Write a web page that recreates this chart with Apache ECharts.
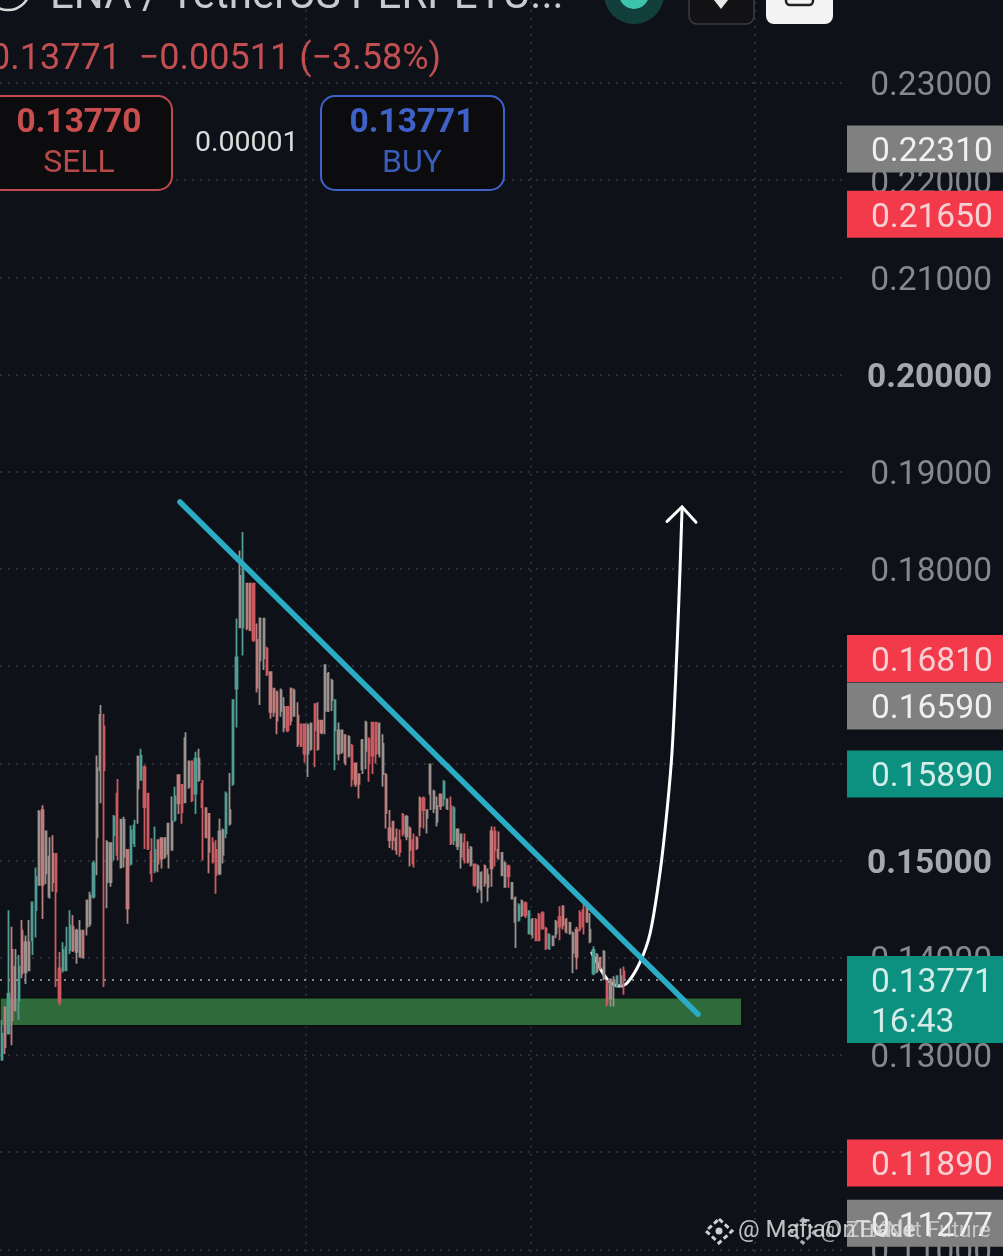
<!DOCTYPE html>
<html>
<head>
<meta charset="utf-8">
<style>html,body{margin:0;padding:0;background:#0e1118}#c{width:1003px;height:1256px;filter:blur(0.4px)}</style>
<script src="https://cdn.jsdelivr.net/npm/echarts@6/dist/echarts.min.js"></script>
</head>
<body>
<div id="c"></div>
<script>
// Candle values in units of 0.0001 USDT
const opens = [1295,1349,1322,1408,1391,1356,1428,1416,1416,1418,1449,1550,1552,1530,1504,1507,1507,1389,1387,1387,1408,1432,1428,1428,1428,1459,1464,1463,1595,1650,1638,1519,1518,1526,1569,1542,1542,1511,1497,1518,1607,1583,1596,1569,1509,1490,1521,1523,1523,1538,1540,1542,1588,1578,1626,1602,1602,1569,1605,1579,1554,1548,1518,1511,1530,1531,1528,1552,1579,1677,1793,1740,1785,1785,1785,1727,1749,1749,1718,1694,1677,1673,1675,1658,1658,1677,1675,1649,1640,1640,1639,1641,1634,1644,1632,1701,1692,1685,1665,1634,1634,1629,1627,1618,1600,1589,1624,1642,1625,1642,1642,1641,1620,1588,1533,1540,1523,1521,1547,1545,1533,1521,1523,1564,1564,1544,1599,1571,1540,1568,1581,1563,1556,1554,1532,1527,1518,1511,1513,1496,1494,1470,1494,1485,1492,1530,1511,1508,1497,1494,1477,1437,1454,1458,1456,1448,1439,1439,1444,1446,1430,1424,1422,1437,1432,1453,1439,1436,1425,1429,1446,1432,1451,1429,1408,1403,1400,1406,1376,1377,1377,1370,1372,1386];
const closes = [1322,1308,1363,1336,1346,1391,1384,1385,1387,1457,1483,1475,1475,1487,1463,1478,1468,1355,1408,1411,1433,1408,1406,1401,1401,1432,1435,1497,1524,1593,1593,1478,1478,1545,1506,1493,1504,1451,1531,1536,1574,1608,1555,1512,1487,1511,1497,1502,1504,1507,1511,1566,1559,1550,1560,1576,1562,1605,1583,1555,1524,1509,1499,1485,1487,1506,1569,1538,1665,1709,1740,1805,1739,1737,1727,1678,1706,1708,1692,1653,1653,1644,1654,1637,1634,1644,1649,1620,1618,1610,1610,1615,1661,1615,1644,1654,1654,1665,1634,1610,1612,1601,1608,1584,1579,1579,1594,1613,1600,1608,1610,1610,1589,1549,1521,1521,1511,1509,1528,1525,1511,1497,1513,1535,1552,1552,1569,1554,1556,1556,1564,1554,1518,1521,1515,1504,1501,1499,1496,1475,1472,1487,1477,1473,1530,1511,1503,1485,1473,1484,1461,1461,1439,1444,1444,1425,1424,1418,1418,1430,1410,1410,1413,1425,1442,1434,1427,1425,1405,1401,1430,1449,1437,1417,1384,1386,1389,1379,1353,1358,1372,1381,1381,1377];
const lows = [1295,1301,1322,1310,1346,1336,1379,1373,1387,1403,1421,1475,1440,1476,1461,1468,1370,1351,1385,1387,1404,1406,1394,1401,1399,1423,1432,1461,1485,1559,1370,1451,1473,1500,1500,1492,1493,1435,1495,1514,1538,1583,1512,1511,1478,1487,1488,1492,1502,1492,1511,1540,1548,1538,1559,1574,1560,1548,1581,1500,1523,1487,1497,1466,1485,1497,1523,1536,1577,1637,1740,1711,1737,1737,1725,1673,1660,1696,1690,1646,1648,1630,1648,1632,1632,1639,1648,1617,1617,1601,1586,1613,1596,1613,1630,1630,1653,1654,1593,1603,1610,1598,1606,1576,1576,1564,1589,1594,1581,1589,1600,1606,1576,1533,1513,1511,1506,1504,1525,1521,1494,1493,1511,1525,1533,1528,1552,1549,1535,1552,1556,1552,1516,1516,1511,1492,1497,1497,1494,1473,1467,1456,1473,1458,1473,1494,1501,1484,1472,1472,1460,1410,1437,1442,1441,1424,1420,1417,1417,1429,1408,1408,1412,1420,1418,1429,1425,1424,1384,1388,1427,1424,1436,1415,1382,1384,1388,1377,1350,1350,1350,1370,1370,1362];
const highs = [1336,1349,1449,1432,1409,1403,1439,1423,1439,1457,1493,1552,1557,1530,1524,1526,1507,1406,1416,1432,1449,1444,1430,1439,1428,1459,1468,1500,1608,1660,1651,1521,1519,1547,1584,1543,1545,1511,1536,1542,1608,1615,1598,1569,1523,1535,1521,1524,1523,1538,1566,1576,1588,1578,1632,1602,1602,1612,1615,1583,1554,1548,1524,1521,1543,1533,1571,1590,1666,1749,1819,1838,1785,1785,1785,1744,1750,1749,1720,1694,1677,1675,1677,1668,1658,1678,1677,1663,1641,1641,1641,1642,1661,1663,1644,1701,1694,1687,1665,1642,1634,1630,1629,1620,1600,1589,1625,1644,1627,1642,1642,1642,1630,1590,1552,1540,1533,1532,1549,1547,1535,1528,1525,1566,1566,1552,1600,1573,1566,1569,1583,1563,1566,1556,1533,1528,1528,1520,1515,1496,1496,1489,1496,1492,1535,1535,1530,1508,1499,1496,1478,1463,1456,1460,1458,1449,1441,1441,1446,1448,1432,1425,1422,1439,1453,1454,1441,1437,1427,1432,1449,1458,1453,1446,1412,1405,1401,1408,1377,1379,1381,1382,1389,1391];
const toneList = "t p t p g t p g g t t g p g g p r r t t t p g g p g g t g g r g g t r g g p t t g t r r r t p p g g g t p r g g r t g r p p r r g g t g t t g t p p r p g g r p p p g g r p g p r r g g r p p g g g t g g p g r p p g g r r r g g p p p p r r g p r p p r g g g g p t g r t g g r p g r g g p g p r p g g r g g t g r t g r r r r t g g r p p g g p r r p g t g p g r g g t g r r p r r g g g t t r".split(' ');
const currentPrice = 0.13771;

// Drawn annotations (x in candle slots, y in price)
const trendX = [52.9, 205.2];
const trendY = [0.1869, 0.1342];
const curveX = [174.0,177.3,179.3,182.3,184.6,188.1,191.1,194.0,196.1,197.6,199.0,199.9,200.5];
const curveY = [0.1405,0.1384,0.1375,0.1371,0.1375,0.1395,0.1425,0.1487,0.1552,0.1614,0.1717,0.1799,0.1861];
const arrowX = [196.1,200.5,204.6];
const arrowY = [0.1849,0.1864,0.1848];
const zoneX = [0, 218.1];
const zoneY = [0.1359, 0.1330];

// Price tags on the right-hand scale
const tagLabels = ['0.22310','0.21650','0.16810','0.16590','0.15890','0.13771\n16:43','0.11890','0.11277'];
const tagAnchors = [0.2232,0.2165,0.1708,0.1659,0.1589,0.1357,0.1189,0.1127];
const tagTones = ['g','r','r','g','t','t','r','g'];
const boldTicks = ['0.20000','0.15000'];
const slotCount = 249;
const gridEvery = 66, gridFirst = 24;

const palette = {t:'#4f9d93', r:'#cc5a60', p:'#bf7c7b', g:'#9a918d'};
const tagFill = {g:'#808080', r:'#f23a4b', t:'#0c9080'};
const categories = Array.from({length:slotCount},(_, i)=>'c'+i);

const candleData = opens.map((o,i)=>{
  const c = palette[toneList[i]] || palette.g;
  return {value:[o/10000, closes[i]/10000, lows[i]/10000, highs[i]/10000],
    itemStyle:{color:c,color0:c,borderColor:c,borderColor0:c,borderWidth:1.8}};
});
const pair=(xs,ys)=>xs.map((x,i)=>[x,ys[i]]);
const font = 'Roboto, "Liberation Sans", sans-serif';

const chart = echarts.init(document.getElementById('c'), null, {renderer:'canvas'});
chart.setOption({
  animation:false,
  backgroundColor:'#0e1118',
  grid:{left:0, width:847, top:-14.2, height:1360.8, containLabel:false, outerBoundsMode:'none'},
  xAxis:[
    {type:'category', data:categories, boundaryGap:true, axisLine:{show:false}, axisTick:{show:false}, axisLabel:{show:false},
     splitLine:{show:true, showMinLine:false, showMaxLine:false, interval:(i)=>i>=gridFirst && (i-gridFirst)%gridEvery===0, lineStyle:{color:'#2c2f36', type:[2,6], width:2}}},
    {type:'value', min:0, max:slotCount, show:false, splitLine:{show:false}}
  ],
  yAxis:{type:'value', position:'right', min:0.10, max:0.24, interval:0.01,
    axisLine:{show:false}, axisTick:{show:false},
    splitLine:{show:true, showMaxLine:false, lineStyle:{color:'#2c2f36', type:[2,6], width:2}},
    axisLabel:{show:true, inside:false, margin:145, align:'right', padding:[8,0,0,0], fontFamily:font, fontSize:33.5, color:'#85888d',
      formatter:(v)=>{
        if (v<0.105||v>0.235) return '';
        const s=v.toFixed(5);
        return boldTicks.includes(s)?'{b|'+s+'}':s;
      },
      rich:{b:{fontFamily:font,fontSize:33.5,fontWeight:'bold',color:'#a6a8ab'}}
    }},
  series:[
    {type:'line', name:'zone', xAxisIndex:1, data:[], z:1, silent:true,
     markArea:{silent:true, itemStyle:{color:'#2f6a3a', borderColor:'#07100a', borderWidth:1.5},
       data:[[{xAxis:zoneX[0],yAxis:zoneY[0]},{xAxis:zoneX[1],yAxis:zoneY[1]}]]},
     markLine:{silent:true, symbol:'none', precision:5, label:{show:false},
       lineStyle:{color:'#85888d', type:[2,6], width:2}, data:[{yAxis:currentPrice}]}},
    {type:'line', name:'curve', xAxisIndex:1, data:pair(curveX,curveY), symbol:'none', smooth:0.3, z:2,
     lineStyle:{color:'#ffffff', width:3, cap:'round'}, silent:true},
    {type:'candlestick', name:'ENA', xAxisIndex:0, barWidth:1.7, data:candleData, z:3, silent:true},
    {type:'line', name:'trend', xAxisIndex:1, data:pair(trendX,trendY), symbol:'none', z:5,
     lineStyle:{color:'#2aacc4', width:5.5, cap:'round'}, silent:true},
    {type:'line', name:'arrow', xAxisIndex:1, data:pair(arrowX,arrowY), symbol:'none', z:6,
     lineStyle:{color:'#ffffff', width:3, cap:'round', join:'miter'}, silent:true},
    {type:'custom', name:'tags', xAxisIndex:1, z:10, silent:true,
     data:tagAnchors.map((a,i)=>[0,a,i]),
     renderItem:(params,api)=>{
       const i=api.value(2), yc=api.coord([0,api.value(1)])[1];
       const label=tagLabels[i], h=label.includes('\n')?87:47;
       const left=params.coordSys.x+params.coordSys.width;
       return {type:'group', children:[
         {type:'rect', shape:{x:left,y:yc-h/2,width:156,height:h}, style:{fill:tagFill[tagTones[i]]}},
         {type:'text', style:{x:871,y:yc+4,text:label,align:'left',verticalAlign:'middle',
           font:'33.5px '+font, lineHeight:40, fill:tagTones[i]==='r'?'#f6cfd3':(tagTones[i]==='t'?'#d3ece8':'#f0f0f0')}}
       ]};
     }}
  ],
  graphic:{elements:[
    {type:'circle', z:20, shape:{cx:8,cy:-12,r:22}, style:{fill:'none',stroke:'#d8d8d8',lineWidth:2.5}},
    {type:'text', z:20, style:{x:50,y:18,text:'ENA / TetherUS PERPETU...',font:'42px '+font,fill:'#c9cacd',verticalAlign:'bottom'}},
    {type:'circle', z:20, shape:{cx:634,cy:-6,r:30}, style:{fill:'#123f3c'}},
    {type:'circle', z:20, shape:{cx:634,cy:-6,r:15}, style:{fill:'#3fc4ac'}},
    {type:'rect', z:20, shape:{x:689,y:-20,width:65,height:44,r:8}, style:{fill:'#121214',stroke:'#3c3d40',lineWidth:1.5}},
    {type:'polygon', z:21, shape:{points:[[714,0],[728,0],[721,9]]}, style:{fill:'#e8e8e8'}},
    {type:'rect', z:20, shape:{x:766,y:-20,width:67,height:44,r:8}, style:{fill:'#f4f4f4'}},
    {type:'rect', z:21, shape:{x:786,y:-14,width:27,height:19,r:4}, style:{fill:'none',stroke:'#222',lineWidth:2.5}},
    {type:'text', z:20, style:{x:-10,y:60,text:'0.13771  \u22120.00511 (\u22123.58%)',font:'36px '+font,fill:'#c24f51',verticalAlign:'middle'}},
    {type:'rect', z:20, shape:{x:-12,y:96,width:184,height:94,r:14}, style:{fill:'#0c0c0e',stroke:'#c04a4e',lineWidth:2}},
    {type:'text', z:21, style:{x:79,y:124,text:'0.13770',font:'bold 33.5px '+font,fill:'#c84e50',align:'center',verticalAlign:'middle'}},
    {type:'text', z:21, style:{x:79,y:164,text:'SELL',font:'32px '+font,fill:'#b84a4a',align:'center',verticalAlign:'middle'}},
    {type:'text', z:20, style:{x:195,y:144,text:'0.00001',font:'28.5px '+font,fill:'#dcdcdc',verticalAlign:'middle'}},
    {type:'rect', z:20, shape:{x:321,y:96,width:183,height:94,r:14}, style:{fill:'#0c0c0e',stroke:'#3f62c8',lineWidth:2}},
    {type:'text', z:21, style:{x:412,y:124,text:'0.13771',font:'bold 33.5px '+font,fill:'#3f62c8',align:'center',verticalAlign:'middle'}},
    {type:'text', z:21, style:{x:412,y:164,text:'BUY',font:'32px '+font,fill:'#3a5bb8',align:'center',verticalAlign:'middle'}},
    {type:'polygon', z:30, shape:{points:[[719,1219],[732,1231],[719,1243],[706,1231]]}, style:{fill:'none',stroke:'#cfcfcf',lineWidth:3,lineDash:[5,3]}},
    {type:'circle', z:30, shape:{cx:719,cy:1231,r:3.5}, style:{fill:'#cfcfcf'}},
    {type:'text', z:30, style:{x:738,y:1231,text:'@ MafiaOnTrade',font:'24px '+font,fill:'rgba(225,225,225,0.85)',verticalAlign:'middle'}},
    {type:'polygon', z:30, shape:{points:[[803,1219],[815,1231],[803,1243],[791,1231]]}, style:{fill:'none',stroke:'rgba(207,207,207,0.8)',lineWidth:3,lineDash:[5,3]}},
    {type:'text', z:30, style:{x:820,y:1231,text:'@ ZEXNet Future',font:'22.5px '+font,fill:'rgba(225,225,225,0.7)',verticalAlign:'middle'}}
  ]}
});
</script>
</body>
</html>
